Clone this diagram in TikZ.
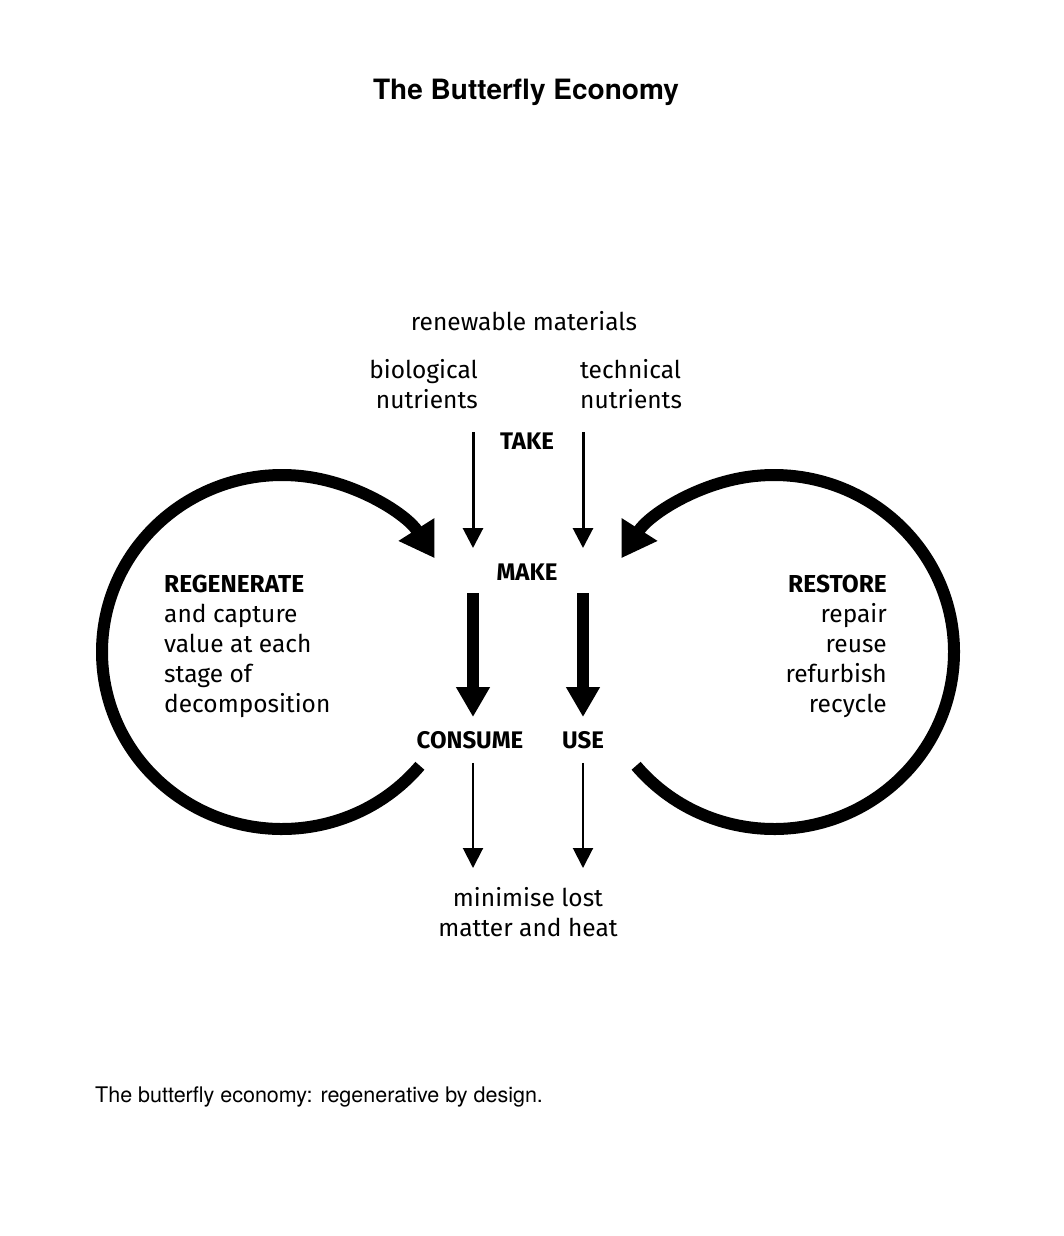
\documentclass[tikz,border=0pt]{standalone}
\usepackage{fontspec}
\setmainfont{Fira Sans}
\newfontfamily\heros{TeX Gyre Heros}
\usetikzlibrary{arrows.meta,positioning}
\begin{document}
\begin{tikzpicture}[x=1pt,y=-1pt]
	\tikzstyle{txt}=[inner sep=0pt,font=\fontsize{24.5}{30}\selectfont,align=center]
	\tikzstyle{stage}=[txt,font=\fontsize{24}{30}\selectfont\bfseries]
	\tikzstyle{flow}=[line width=3pt,-{Triangle[length=20pt,width=20pt]}]
	\tikzstyle{bigflow}=[line width=12pt,-{Triangle[length=30pt,width=32pt]}]
	\tikzstyle{loop}=[line width=12pt,-{Triangle[length=34pt,width=40pt]}]
	\useasboundingbox (0,0) rectangle (1064,1236);
	
	%
	% titles
	%
	\node [inner sep=0pt,font=\heros\fontsize{28}{34}\selectfont\bfseries] (title) at (526,92) {The Butterfly Economy};
	\node [inner sep=0pt,font=\heros\fontsize{21.5}{26}\selectfont,anchor=west] (caption) at (95,1097) {The butterfly economy: regenerative by design.};
	
	%
	% inputs
	%
	\node [txt] (renew) at (524,321) {renewable materials};
	\node [txt,align=right,anchor=east] (bio) at (478,384) {biological\\nutrients};
	\node [txt,align=left,anchor=west] (tech) at (580,384) {technical\\nutrients};
	
	%
	% stages
	%
	\node [stage] (take) at (527,441) {TAKE};
	\node [stage] (make) at (527,572) {MAKE};
	\node [stage] (consume) at (470,740) {CONSUME};
	\node [stage] (use) at (583,740) {USE};
	\node [txt] (lost) at (528,912) {minimise lost\\matter and heat};
	
	\node [txt,align=left,anchor=north west] (regen) at (164,575) {\textbf{REGENERATE}\\and capture\\value at each\\stage of\\decomposition};
	\node [txt,align=right,anchor=north east] (restore) at (887,575) {\textbf{RESTORE}\\repair\\reuse\\refurbish\\recycle};
	
	%
	% flows
	%
	\coordinate (bio-in) at (473,432);
	\coordinate (bio-make) at (473,548);
	\coordinate (tech-in) at (583,432);
	\coordinate (tech-make) at (583,548);
	\coordinate (bio-out) at (473,593);
	\coordinate (tech-out) at (583,593);
	\coordinate (bio-con) at (473,717);
	\coordinate (tech-use) at (583,717);
	\coordinate (bio-lost) at (473,868);
	\coordinate (tech-lost) at (583,868);
	
	\draw [flow] (bio-in) -- (bio-make);
	\draw [flow] (tech-in) -- (tech-make);
	\draw [bigflow] (bio-out) -- (bio-con);
	\draw [bigflow] (tech-out) -- (tech-use);
	\draw [flow,line width=2pt] (consume.south -| bio-lost) ++(0,14) -- (bio-lost);
	\draw [flow,line width=2pt] (use.south -| tech-lost) ++(0,14) -- (tech-lost);
	
	%
	% loops
	%
	\coordinate (regen-c) at (282,652);
	\coordinate (restore-c) at (774,652);
	\draw [loop] (regen-c) ++(-40:180 and -177) arc [start angle=-40,end angle=-328,x radius=180,y radius=-177];
	\draw [loop] (restore-c) ++(220:180 and -177) arc [start angle=220,end angle=508,x radius=180,y radius=-177];
\end{tikzpicture}
\end{document}
